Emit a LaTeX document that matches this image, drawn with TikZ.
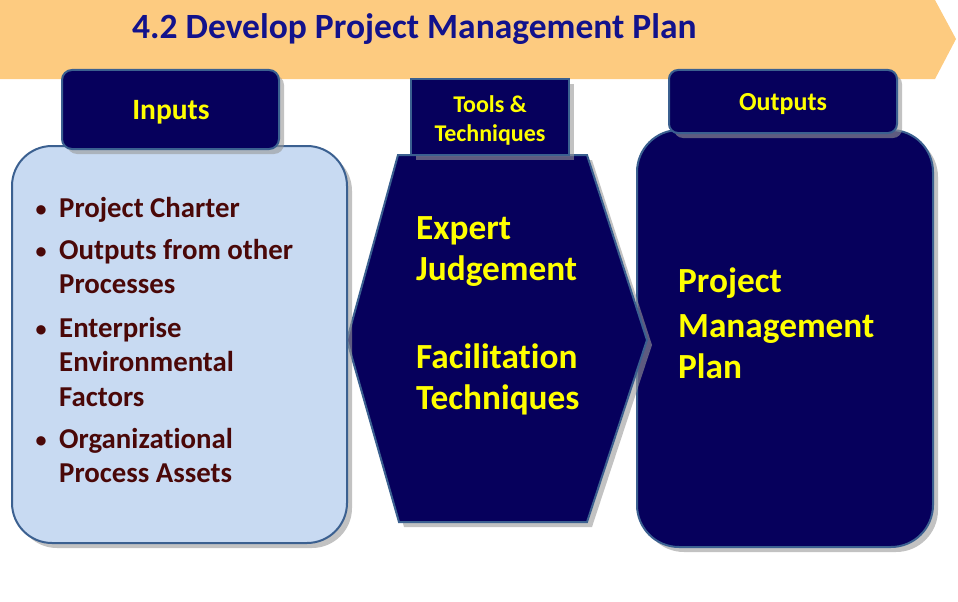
\documentclass[tikz,border=0pt]{standalone}
\usepackage{fontspec}
\setmainfont{Carlito}[Ligatures={NoCommon}]
\usetikzlibrary{shadows}
\definecolor{navy}{HTML}{06005C}
\definecolor{edgeblue}{HTML}{3B6090}
\definecolor{lblue}{HTML}{C8DAF2}
\definecolor{bannerc}{HTML}{FDCB80}
\definecolor{titleblue}{HTML}{12128C}
\definecolor{maroonc}{HTML}{4A0808}
\definecolor{ylw}{HTML}{FFFF00}
\tikzset{
  shad/.style={drop shadow={shadow xshift=5pt, shadow yshift=-5pt, fill=black!40, opacity=0.6}},
  panel/.style={draw=edgeblue, line width=2pt, shad, inner sep=0pt},
  navybox/.style={panel, fill=navy},
  ltxt/.style={inner sep=0pt, anchor=base west},
  ctxt/.style={inner sep=0pt, anchor=base},
  bul/.style={ltxt, text=maroonc, font=\bfseries\fontsize{28.8}{30}\selectfont},
  ytxt/.style={ltxt, text=ylw, font=\bfseries\fontsize{35.3}{38}\selectfont},
}
\begin{document}
\begin{tikzpicture}[x=1pt,y=-1pt]
\useasboundingbox (0,0) rectangle (958,602);
% banner
\fill[bannerc] (0,0) -- (935,0) -- (956,39) -- (935,79) -- (0,79) -- cycle;
\node[ltxt, text=titleblue, font=\bfseries\fontsize{35.5}{38}\selectfont] (title) at (132,39) {4.2 Develop Project Management Plan};
% outputs body (behind hexagon point)
\node[navybox, rounded corners=42pt, minimum width=296pt, minimum height=417pt] (outbody) at (785,338.5) {};
% hexagon
\draw[panel, fill=navy, line join=miter] (398,155) -- (587,155) -- (647,340) -- (587,522) -- (399,522) -- (347,340) -- cycle;
\coordinate (hex) at (497,340);
% inputs
\node[panel, fill=lblue, rounded corners=40pt, minimum width=335pt, minimum height=397pt] (inbody) at (179.5,344.5) {};
\node[navybox, rounded corners=10pt, minimum width=217pt, minimum height=79pt] (intab) at (170.5,109.5) {};
\node[ctxt, text=ylw, font=\bfseries\fontsize{29.5}{31}\selectfont] (inlbl) at (171,119) {Inputs};
% tools
\node[navybox, minimum width=158pt, minimum height=76pt] (tooltab) at (490,117) {};
\node[ctxt, text=ylw, font=\bfseries\fontsize{24}{26}\selectfont] (toollbl1) at (490,112) {Tools \&};
\node[ctxt, text=ylw, font=\bfseries\fontsize{24}{26}\selectfont] (toollbl2) at (490,141) {Techniques};
% outputs tab
\node[navybox, rounded corners=9pt, minimum width=228pt, minimum height=63pt] (outtab) at (783,101.5) {};
\node[ctxt, text=ylw, font=\bfseries\fontsize{26}{28}\selectfont] (outlbl) at (783,110) {Outputs};
% input bullets
\foreach \n/\y in {b1/217,b2/259,b3/337,b4/448}{
  \node[ctxt, text=maroonc, font=\bfseries\fontsize{22}{24}\selectfont] (\n) at (41,\y-1) {•};
}
\node[bul] (i1) at (59,217) {Project Charter};
\node[bul] (i2) at (59,259) {Outputs from other};
\node[bul] (i3) at (59,293) {Processes};
\node[bul] (i4) at (59,337) {Enterprise};
\node[bul] (i5) at (59,371) {Environmental};
\node[bul] (i6) at (59,406) {Factors};
\node[bul] (i7) at (59,448) {Organizational};
\node[bul] (i8) at (59,482) {Process Assets};
% tools text
\node[ytxt] (t1) at (416,239) {Expert};
\node[ytxt] (t2) at (416,280) {Judgement};
\node[ytxt] (t3) at (416,368) {Facilitation};
\node[ytxt] (t4) at (416,409) {Techniques};
% outputs text
\node[ytxt] (o1) at (678,292) {Project};
\node[ytxt] (o2) at (678,337) {Management};
\node[ytxt] (o3) at (678,378) {Plan};
\end{tikzpicture}
\end{document}
